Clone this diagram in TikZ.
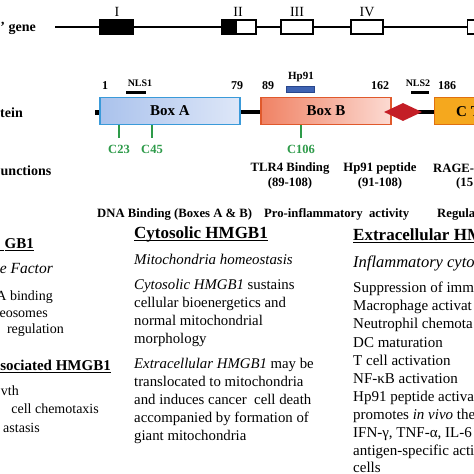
\documentclass[tikz,border=0pt]{standalone}
\usepackage{fontspec}
\setmainfont{Liberation Serif}
\usetikzlibrary{shapes.geometric}
\definecolor{cgreen}{HTML}{2E9B4A}
\definecolor{boxAline}{HTML}{3A9AD9}
\definecolor{boxBline}{HTML}{E0592C}
\definecolor{tailfill}{HTML}{F5A81E}
\definecolor{tailline}{HTML}{E07010}
\definecolor{hpblue}{HTML}{3E63B3}
\definecolor{dred}{HTML}{C41E26}
\newcommand\myul[1]{\setbox0\hbox{#1}\rlap{\rule[-2.6pt]{\wd0}{1.1pt}}\box0}
\tikzset{
  lbl/.style={inner sep=0pt, font=\bfseries\fontsize{12.7}{12.7}\selectfont},
  num/.style={inner sep=0pt, font=\bfseries\fontsize{12}{12}\selectfont},
  small/.style={inner sep=0pt, font=\bfseries\fontsize{10}{10}\selectfont},
  gl/.style={inner sep=0pt, font=\fontsize{14}{14}\selectfont},
  body/.style={inner sep=0pt, anchor=base west, font=\fontsize{14.8}{14.8}\selectfont},
  rbody/.style={inner sep=0pt, anchor=base west, font=\fontsize{15}{15}\selectfont},
  lbody/.style={inner sep=0pt, anchor=base east, font=\fontsize{14}{14}\selectfont},
  head/.style={inner sep=0pt, anchor=base west, font=\bfseries\fontsize{17}{17}\selectfont},
  lhead/.style={inner sep=0pt, anchor=base east, font=\bfseries\fontsize{15}{15}\selectfont},
  side/.style={inner sep=0pt, anchor=base east, font=\bfseries\fontsize{14}{14}\selectfont},
  grn/.style={inner sep=0pt, text=cgreen, font=\bfseries\fontsize{12.5}{12.5}\selectfont},
  tick/.style={draw=cgreen, line width=1.6pt},
  exon/.style={draw=black, line width=1.3pt, minimum height=14pt, inner sep=0pt},
  nls/.style={fill=black, draw=none, minimum height=3pt, inner sep=0pt},
}
\begin{document}
\begin{tikzpicture}[x=1pt,y=-1pt]
\useasboundingbox (0,0) rectangle (474,474);
\clip (0,0) rectangle (474,474);
\fill[white] (0,0) rectangle (474,474);
% ---------- gene row ----------
\coordinate (g0) at (55,27);
\coordinate (g1) at (480,27);
\draw[line width=2.5pt] (g0) -- (g1);
\node[exon, fill=black, minimum width=33pt] (e1) at (116.5,27) {};
\node[exon, fill=white, minimum width=34pt] (e2) at (239,27) {};
\fill[black] (e2.north west) rectangle (237,34);
\node[exon, fill=white, minimum width=32pt] (e3) at (297,27) {};
\node[exon, fill=white, minimum width=32pt] (e4) at (367,27) {};
\node[exon, fill=white, minimum width=32pt, anchor=west] (e5) at (467,27) {};
\node[gl] (l1) at (117,12) {I};
\node[gl] (l2) at (238,12) {II};
\node[gl] (l3) at (297,12) {III};
\node[gl] (l4) at (367,12) {IV};
\node[side] (gene) at (36,31) {’ gene};
% ---------- protein row ----------
\coordinate (p0) at (97,112);
\coordinate (p1) at (480,112);
\draw[line width=4pt] (p0) -- (p1);
\node[fill=black, minimum size=5pt, inner sep=0pt] (nt) at (97,112) {};
\node[draw=boxAline, line width=1.2pt, left color={rgb,255:red,170;green,194;blue,236}, right color={rgb,255:red,222;green,231;blue,248}, minimum width=140pt, minimum height=27pt, inner sep=0pt, font=\bfseries\fontsize{15}{15}\selectfont] (boxA) at (170,111) {Box A};
\node[draw=boxBline, line width=1.2pt, left color={rgb,255:red,240;green,130;blue,100}, right color={rgb,255:red,252;green,218;blue,210}, minimum width=130pt, minimum height=27pt, inner sep=0pt, font=\bfseries\fontsize{15}{15}\selectfont] (boxB) at (326,111) {Box B};
\node[diamond, fill=dred, draw=none, inner sep=0pt, minimum width=38pt, minimum height=18pt, aspect=2] (dia) at (403,112) {};
\node[draw=tailline, line width=1.2pt, fill=tailfill, minimum width=80pt, minimum height=27pt, inner sep=0pt, anchor=west] (tail) at (434,111) {};
\node[inner sep=0pt, anchor=west, font=\bfseries\fontsize{15}{15}\selectfont] (tailt) at (456,112) {C T};
% numbers above
\node[num] (n1) at (105,86) {1};
\node[num] (n79) at (237,86) {79};
\node[num] (n89) at (268,86) {89};
\node[num] (n162) at (380,86) {162};
\node[num] (n186) at (447,86) {186};
\node[small] (nls1t) at (140,83) {NLS1};
\node[nls, minimum width=20pt] (nls1) at (136,92) {};
\node[small] (nls2t) at (418,83) {NLS2};
\node[nls, minimum width=18pt] (nls2) at (420,92) {};
\node[inner sep=0pt, font=\bfseries\fontsize{11}{11}\selectfont] (hpt) at (301,77) {Hp91};
\node[fill=hpblue, draw={rgb,255:red,40;green,70;blue,140}, line width=0.6pt, minimum width=28pt, minimum height=6pt, inner sep=0pt] (hp) at (300,89) {};
% cysteines
\coordinate (c23a) at (119,125); \coordinate (c23b) at (119,138);
\coordinate (c45a) at (152,125); \coordinate (c45b) at (152,138);
\coordinate (c106a) at (301,125); \coordinate (c106b) at (301,138);
\draw[tick] (c23a) -- (c23b);
\draw[tick] (c45a) -- (c45b);
\draw[tick] (c106a) -- (c106b);
\node[grn] (c23) at (119,149) {C23};
\node[grn] (c45) at (152,149) {C45};
\node[grn] (c106) at (301,149) {C106};
% left labels
\node[side] (prot) at (23,117) {tein};
\node[side, anchor=base west] (func) at (0.5,175) {unctions};
% functions
\node[lbl] (tlr) at (290,168) {TLR4 Binding};
\node[lbl] (tlrn) at (290,183) {(89-108)};
\node[lbl] (hpp) at (380,168) {Hp91 peptide};
\node[lbl] (hppn) at (380,183) {(91-108)};
\node[lbl, anchor=west] (rage) at (433,168) {RAGE-};
\node[lbl, anchor=west] (ragen) at (456,183) {(15};
\node[lbl, anchor=west] (dna) at (97,214) {DNA Binding (Boxes A \& B)};
\node[lbl, anchor=west] (pro) at (264,214) {Pro-inflammatory\ \ activity};
\node[lbl, anchor=west] (reg) at (437,214) {Regula};
% ---------- left column ----------
\node[lhead] (lh1) at (34,248) {\myul{GB1}};
\coordinate (u0) at (0,250.5);
\draw[line width=1.1pt] (u0) -- (lh1.base west |- u0);
\node[lbody, font=\itshape\fontsize{15.5}{15.5}\selectfont] (lf) at (53,273) {e Factor};
\node[lbody] (la1) at (53,300) {A binding};
\node[lbody] (la2) at (48,317) {eosomes};
\node[lbody] (la3) at (64,333) {regulation};
\node[lhead] (lh2) at (111,370) {\myul{sociated HMGB1}};
\node[lbody] (lb1) at (19,395) {vth};
\node[lbody] (lb2) at (99,413) {cell chemotaxis};
\node[lbody] (lb3) at (40,432) {astasis};
% ---------- middle column ----------
\node[head] (mh) at (134,238) {\myul{Cytosolic HMGB1}};
\node[body, font=\itshape\fontsize{14.9}{14.9}\selectfont] (mi) at (134,264) {Mitochondria homeostasis};
\node[body] (m1) at (134,289) {\textit{Cytosolic HMGB1} sustains};
\node[body] (m2) at (134,307) {cellular bioenergetics and};
\node[body] (m3) at (134,325) {normal mitochondrial};
\node[body] (m4) at (134,343) {morphology};
\node[body] (m5) at (134,368) {\textit{Extracellular HMGB1} may be};
\node[body] (m6) at (134,386) {translocated to mitochondria};
\node[body] (m7) at (134,404) {and induces cancer\ \ cell death};
\node[body] (m8) at (134,422) {accompanied by formation of};
\node[body] (m9) at (134,440) {giant mitochondria};
% ---------- right column ----------
\node[head] (rh) at (353,240) {\myul{Extracellular HM}};
\node[rbody, font=\itshape\fontsize{16.5}{16.5}\selectfont] (ri) at (353,267) {Inflammatory cyto};
\node[rbody] (r1) at (353,292) {Suppression of imm};
\node[rbody] (r2) at (353,310) {Macrophage activat};
\node[rbody] (r3) at (353,328) {Neutrophil chemota};
\node[rbody] (r4) at (353,347) {DC maturation};
\node[rbody] (r5) at (353,365) {T cell activation};
\node[rbody] (r6) at (353,383) {NF-κB activation};
\node[rbody] (r7) at (353,401) {Hp91 peptide activa};
\node[rbody] (r8) at (353,419) {promotes \textit{in vivo} the};
\node[rbody] (r9) at (353,437) {IFN-γ, TNF-α, IL-6};
\node[rbody] (r10) at (353,455) {antigen-specific acti};
\node[rbody] (r11) at (353,472) {cells};
\end{tikzpicture}
\end{document}
